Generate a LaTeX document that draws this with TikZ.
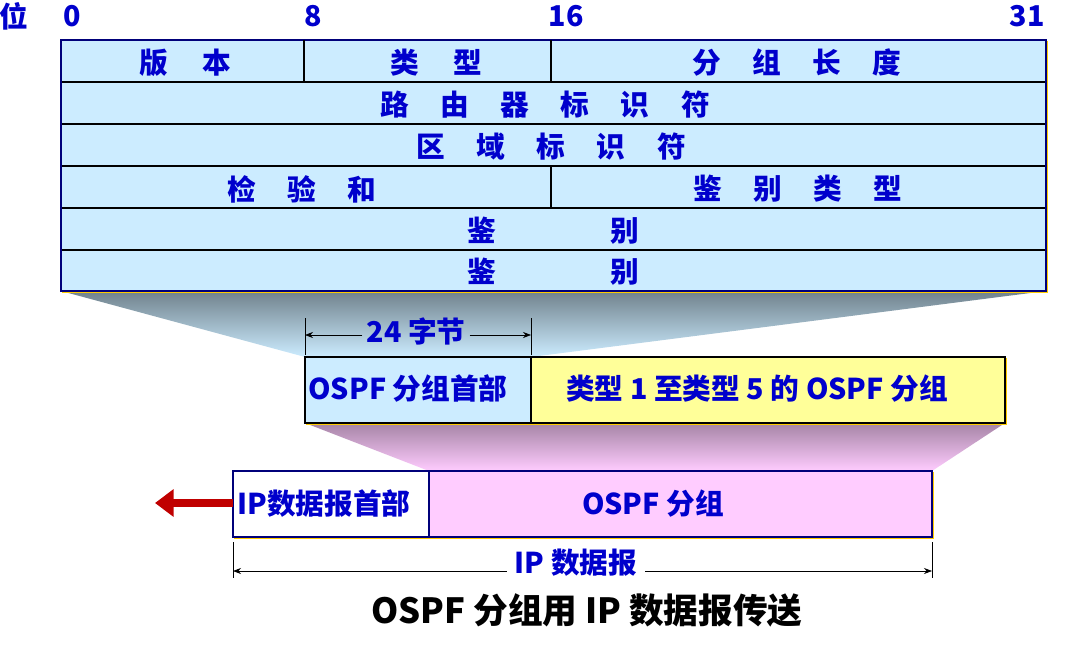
\documentclass[tikz,border=0pt]{standalone}
\usepackage{fontspec}
\setmainfont{Noto Sans CJK SC}
\usetikzlibrary{arrows.meta}
\definecolor{tb}{HTML}{CCECFF}
\definecolor{tx}{HTML}{0000CC}
\definecolor{yl}{HTML}{FFFF99}
\definecolor{pk}{HTML}{FFCCFF}
\definecolor{sh}{HTML}{FFCC00}
\definecolor{ar}{HTML}{C00000}
\tikzset{
 lbl/.style={text=tx,font=\bfseries\fontsize{21.5}{24}\selectfont,inner sep=0pt},
 dim/.style={line width=0.5pt},
}
\begin{document}
\begin{tikzpicture}[x=0.75pt,y=-0.75pt]
\useasboundingbox (0,0) rectangle (1077,645);
% gradients
\shade[top color=black!45!tb,bottom color=tb] (61,291) -- (1046,291) -- (531,357) -- (305,357) -- cycle;
\shade[top color=black!35!pk,bottom color=pk] (305,423) -- (1005,423) -- (932,471) -- (429,471) -- cycle;
% table
\fill[tb] (61,40) rectangle (1046,291);
\draw[sh,line width=1.5pt] (62,292) -- (1047,292) -- (1047,41);
\foreach \y in {82,124,166,208,250} \draw[line width=0.8pt] (61,\y) -- (1046,\y);
\draw[draw=tx!60!black,line width=0.8pt] (61,40) rectangle (1046,291);
\draw[line width=0.8pt] (304,40) -- (304,82) (551,40) -- (551,82) (551,166) -- (551,208);
\node[lbl] (b0) at (14,16) {位};
\node[lbl] (b1) at (72,16) {0};
\node[lbl] (b2) at (313,16) {8};
\node[lbl] (b3) at (566,16) {16};
\node[lbl] (b4) at (1027,16) {31};
\node[lbl] (c1) at (185,63) {版\hspace{1.2em}本};
\node[lbl] (c2) at (436,63) {类\hspace{1.2em}型};
\node[lbl] (c3) at (797,63) {分\hspace{1.1em}组\hspace{1.1em}长\hspace{1.1em}度};
\node[lbl] (c4) at (545,105) {路\hspace{1.1em}由\hspace{1.1em}器\hspace{1.1em}标\hspace{1.1em}识\hspace{1.1em}符};
\node[lbl] (c5) at (551,147) {区\hspace{1.1em}域\hspace{1.1em}标\hspace{1.1em}识\hspace{1.1em}符};
\node[lbl] (c6) at (302,189) {检\hspace{1.1em}验\hspace{1.1em}和};
\node[lbl] (c7) at (798,189) {鉴\hspace{1.1em}别\hspace{1.1em}类\hspace{1.1em}型};
\node[lbl] (c8) at (553,231) {鉴\hspace{4em}别};
\node[lbl] (c9) at (553,272) {鉴\hspace{4em}别};
% OSPF packet
\fill[tb] (305,357) rectangle (531,423);
\fill[yl] (531,357) rectangle (1005,423);
\draw[sh,line width=2pt] (306,424) -- (1006,424) -- (1006,358);
\draw[line width=1.2pt] (305,357) rectangle (1005,423);
\draw[line width=0.8pt] (531,357) -- (531,423);
\node[lbl] (h1) at (408,389) {OSPF 分组首部};
\node[lbl] (h2) at (757,389) {类型 1 至类型 5 的 OSPF 分组};
\coordinate (t1a) at (305,318); \coordinate (t1b) at (305,355);
\coordinate (t2a) at (531,318); \coordinate (t2b) at (531,355);
\draw[line width=0.5pt] (t1a) -- (t1b) (t2a) -- (t2b);
\node[lbl,inner xsep=3pt] (d1) at (416,331) {24 字节};
\coordinate (d1l) at (305,335); \coordinate (d1r) at (531,335);
\draw[dim,-{Stealth[length=6pt]}] (d1.east|-d1r) -- (d1r);
\draw[dim,-{Stealth[length=6pt]}] (d1.west|-d1l) -- (d1l);
% IP packet
\fill[white] (233,471) rectangle (429,537);
\fill[pk] (429,471) rectangle (932,537);
\draw[sh,line width=2pt] (234,538) -- (933,538) -- (933,472);
\draw[draw=tx!60!black,line width=1.2pt] (233,471) rectangle (932,537);
\draw[draw=tx!60!black,line width=0.8pt] (429,471) -- (429,537);
\node[lbl] (i1) at (324,504) {IP数据报首部};
\node[lbl] (i2) at (653,504) {OSPF 分组};
\coordinate (ar0) at (233,503); \coordinate (ar1) at (155,503);
\draw[ar,line width=6pt,-{Triangle[length=14pt,width=20pt]}] (ar0) -- (ar1);
\coordinate (u1a) at (233,542); \coordinate (u1b) at (233,578);
\coordinate (u2a) at (932,542); \coordinate (u2b) at (932,578);
\draw[line width=0.5pt] (u1a) -- (u1b) (u2a) -- (u2b);
\node[lbl,inner xsep=6pt] (d2) at (576,563) {IP 数据报};
\coordinate (d2l) at (233,571); \coordinate (d2r) at (932,571);
\draw[dim,-{Stealth[length=6pt]}] (d2.west|-d2l) -- (d2l);
\draw[dim,-{Stealth[length=6pt]}] (d2.east|-d2r) -- (d2r);
\node[lbl,text=black,font=\bfseries\fontsize{26}{28}\selectfont] (cap) at (587,610) {OSPF 分组用 IP 数据报传送};
\end{tikzpicture}
\end{document}
